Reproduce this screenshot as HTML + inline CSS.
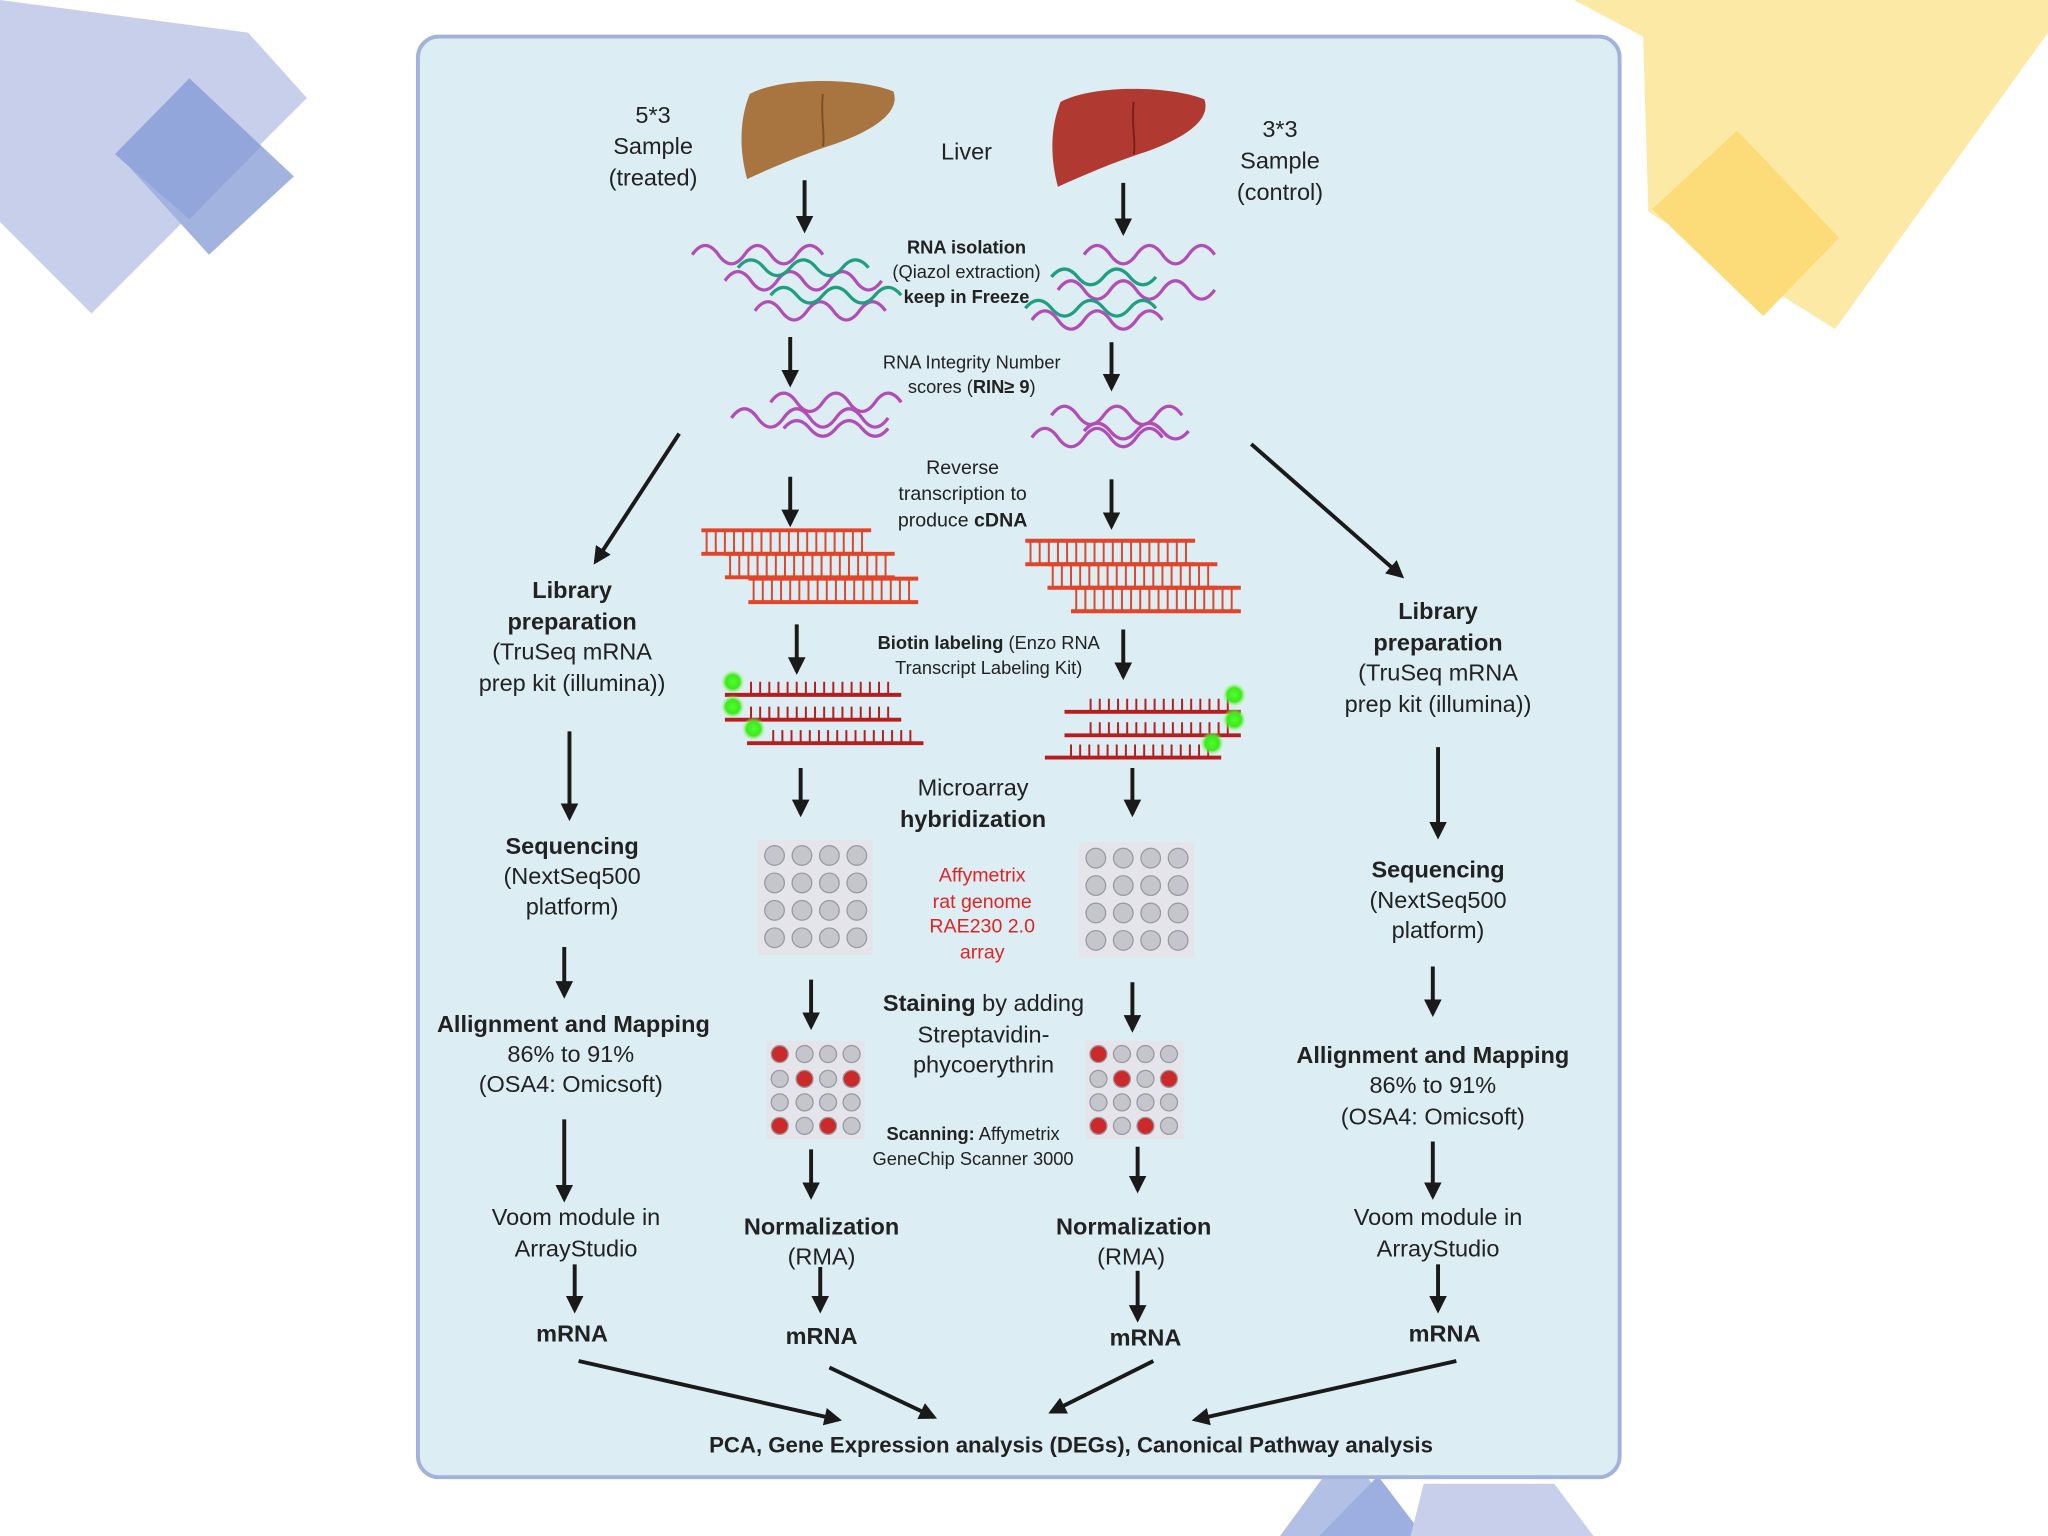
<!DOCTYPE html>
<html><head><meta charset="utf-8"><style>
html,body{margin:0;padding:0;background:#fff;width:2048px;height:1536px;overflow:hidden}
svg{display:block}
text{font-family:"Liberation Sans",sans-serif;fill:#222;text-anchor:middle}
.m{font-size:18px}
.s{font-size:14px}
.b{font-weight:bold}
.r{fill:#e02424;font-size:15px}
</style></head><body>
<svg width="2048" height="1536" viewBox="0 0 1568 1176" xmlns="http://www.w3.org/2000/svg">
<defs>
<marker id="a" viewBox="0 0 10 10" refX="8" refY="5" markerWidth="4.5" markerHeight="4.5" orient="auto"><path d="M0,0 L10,5 L0,10 z" fill="#1a1a1a"/></marker>
<g id="cd"><line x1="0" y1="0" x2="130" y2="0" stroke="#e0452a" stroke-width="3"/><line x1="0" y1="18" x2="130" y2="18" stroke="#e0452a" stroke-width="3"/>
<path d="M4,0V18M11,0V18M18,0V18M25,0V18M32,0V18M39,0V18M46,0V18M53,0V18M60,0V18M67,0V18M74,0V18M81,0V18M88,0V18M95,0V18M102,0V18M109,0V18M116,0V18M123,0V18" stroke="#e0452a" stroke-width="1.5"/></g>
<g id="bt"><line x1="0" y1="0" x2="135" y2="0" stroke="#b81c1c" stroke-width="3"/>
<path d="M20,0V-10M27,0V-10M34,0V-10M41,0V-10M48,0V-10M55,0V-10M62,0V-10M69,0V-10M76,0V-10M83,0V-10M90,0V-10M97,0V-10M104,0V-10M111,0V-10M118,0V-10M125,0V-10" stroke="#b81c1c" stroke-width="1.5"/></g>
<radialGradient id="g"><stop offset="0" stop-color="#4cff2a"/><stop offset="0.6" stop-color="#3ee81e"/><stop offset="1" stop-color="#9dff80" stop-opacity="0"/></radialGradient>
</defs>
<!-- decorations -->
<polygon points="0,0 190,25 235,75 70,240 0,170" fill="#c7cfea"/>
<polygon points="145,60 225,135 160,195 90,118" fill="#a3b3e0"/>
<polygon points="145,60 200,112 145,168 88,118" fill="#92a6dc"/>
<polygon points="1205,0 1568,0 1568,25 1405,252 1262,162 1258,28" fill="#fde9a6"/>
<polygon points="1330,100 1408,182 1350,242 1265,160" fill="#fbdc78"/>
<polygon points="980,1176 1030,1108 1080,1176" fill="#b3c0e6"/>
<polygon points="1010,1176 1055,1130 1090,1176" fill="#9dafe0"/>
<polygon points="1090,1136 1190,1136 1220,1176 1080,1176" fill="#c7cfea"/>
<!-- panel -->
<rect x="320" y="28" width="920" height="1103" rx="16" fill="#dcedf3" stroke="#a2b2da" stroke-width="3"/>
<!-- livers -->
<path d="M574,72 C600,58 660,60 684,70 C690,86 668,100 640,110 C615,118 592,128 572,137 C566,115 566,92 574,72z" fill="#a8743f"/>
<path d="M630,72 C628,90 632,104 630,112" stroke="#7a5025" stroke-width="1.5" fill="none"/>
<path d="M812,78 C838,64 898,66 922,76 C928,92 906,106 878,116 C853,124 830,134 810,143 C804,121 804,98 812,78z" fill="#b03a32"/>
<path d="M868,78 C866,96 870,110 868,118" stroke="#7a1e18" stroke-width="1.5" fill="none"/>
<!-- texts top -->
<text class="m" x="500" y="94">5*3</text><text class="m" x="500" y="118">Sample</text><text class="m" x="500" y="142">(treated)</text>
<text class="m" x="740" y="122">Liver</text>
<text class="m" x="980" y="105">3*3</text><text class="m" x="980" y="129">Sample</text><text class="m" x="980" y="153">(control)</text>
<g stroke="#1a1a1a" stroke-width="3" marker-end="url(#a)" fill="none">
<line x1="616" y1="138" x2="616" y2="176"/><line x1="860" y1="140" x2="860" y2="178"/>
<line x1="605" y1="258" x2="605" y2="294"/><line x1="851" y1="262" x2="851" y2="297"/>
<line x1="605" y1="365" x2="605" y2="401"/><line x1="851" y1="367" x2="851" y2="403"/>
<line x1="520" y1="332" x2="456" y2="430"/><line x1="958" y1="340" x2="1073" y2="441"/>
<line x1="610" y1="478" x2="610" y2="514"/><line x1="860" y1="482" x2="860" y2="518"/>
<line x1="613" y1="588" x2="613" y2="623"/><line x1="867" y1="588" x2="867" y2="623"/>
<line x1="621" y1="750" x2="621" y2="786"/><line x1="867" y1="752" x2="867" y2="788"/>
<line x1="621" y1="880" x2="621" y2="916"/><line x1="871" y1="878" x2="871" y2="911"/>
<line x1="628" y1="970" x2="628" y2="1003"/><line x1="871" y1="973" x2="871" y2="1010"/>
<line x1="436" y1="560" x2="436" y2="626"/><line x1="432" y1="725" x2="432" y2="762"/>
<line x1="432" y1="857" x2="432" y2="918"/><line x1="440" y1="968" x2="440" y2="1003"/>
<line x1="1101" y1="572" x2="1101" y2="640"/><line x1="1097" y1="740" x2="1097" y2="776"/>
<line x1="1097" y1="874" x2="1097" y2="916"/><line x1="1101" y1="968" x2="1101" y2="1003"/>
<line x1="443" y1="1042" x2="642" y2="1087"/><line x1="635" y1="1047" x2="715" y2="1085"/>
<line x1="883" y1="1042" x2="805" y2="1081"/><line x1="1115" y1="1042" x2="915" y2="1087"/>
</g>
<!-- RNA waves -->
<g fill="none" stroke-width="2.5">
<path d="M530,195 q10,-14 20,0 t20,0 t20,0 t20,0 t20,0" stroke="#b24db8"/>
<path d="M555,215 q10,-14 20,0 t20,0 t20,0 t20,0 t20,0 t20,0" stroke="#b24db8"/>
<path d="M578,238 q10,-14 20,0 t20,0 t20,0 t20,0 t20,0" stroke="#b24db8"/>
<path d="M565,205 q10,-12 20,0 t20,0 t20,0 t20,0 t20,0" stroke="#1f9e80"/>
<path d="M590,226 q10,-12 20,0 t20,0 t20,0 t20,0 t20,0" stroke="#1f9e80"/>
<path d="M830,195 q10,-14 20,0 t20,0 t20,0 t20,0 t20,0" stroke="#b24db8"/>
<path d="M810,222 q10,-14 20,0 t20,0 t20,0 t20,0 t20,0 t20,0" stroke="#b24db8"/>
<path d="M790,245 q10,-14 20,0 t20,0 t20,0 t20,0 t20,0" stroke="#b24db8"/>
<path d="M805,212 q10,-12 20,0 t20,0 t20,0 t20,0" stroke="#1f9e80"/>
<path d="M785,236 q10,-12 20,0 t20,0 t20,0 t20,0 t20,0" stroke="#1f9e80"/>
<path d="M560,320 q10,-14 20,0 t20,0 t20,0 t20,0 t20,0 t20,0" stroke="#b24db8"/>
<path d="M590,308 q10,-14 20,0 t20,0 t20,0 t20,0 t20,0" stroke="#b24db8"/>
<path d="M600,328 q10,-12 20,0 t20,0 t20,0 t20,0" stroke="#b24db8"/>
<path d="M790,335 q10,-14 20,0 t20,0 t20,0 t20,0 t20,0" stroke="#b24db8"/>
<path d="M805,318 q10,-14 20,0 t20,0 t20,0 t20,0 t20,0" stroke="#b24db8"/>
<path d="M830,330 q10,-12 20,0 t20,0 t20,0 t20,0" stroke="#b24db8"/>
</g>
<text class="s b" x="740" y="194">RNA isolation</text>
<text class="s" x="740" y="213">(Qiazol extraction)</text>
<text class="s b" x="740" y="232">keep in Freeze</text>
<text class="s" x="744" y="282">RNA Integrity Number</text>
<text class="s" x="744" y="301">scores (<tspan class="b">RIN≥ 9</tspan>)</text>
<text class="s" x="737" y="363" style="font-size:15px">Reverse</text>
<text class="s" x="737" y="383" style="font-size:15px">transcription to</text>
<text class="s" x="737" y="403" style="font-size:15px">produce <tspan class="b">cDNA</tspan></text>
<!-- cDNA -->
<use href="#cd" x="537" y="406"/><use href="#cd" x="555" y="424"/><use href="#cd" x="573" y="443"/>
<use href="#cd" x="785" y="414"/><use href="#cd" x="802" y="432"/><use href="#cd" x="820" y="450"/>
<text class="s" x="757" y="497"><tspan class="b">Biotin labeling</tspan> (Enzo RNA</text>
<text class="s" x="757" y="516">Transcript Labeling Kit)</text>
<!-- biotin -->
<use href="#bt" x="555" y="532"/><use href="#bt" x="555" y="551"/><use href="#bt" x="572" y="569"/>
<use href="#bt" x="815" y="545"/><use href="#bt" x="815" y="563"/><use href="#bt" x="800" y="580"/>
<circle cx="561" cy="522" r="9" fill="url(#g)"/><circle cx="561" cy="541" r="9" fill="url(#g)"/><circle cx="577" cy="558" r="9" fill="url(#g)"/>
<circle cx="945" cy="532" r="9" fill="url(#g)"/><circle cx="945" cy="551" r="9" fill="url(#g)"/><circle cx="928" cy="569" r="9" fill="url(#g)"/>
<text class="m" x="745" y="609">Microarray</text><text class="m b" x="745" y="633">hybridization</text>
<!-- grids -->
<rect x="580" y="643" width="88" height="88" fill="#e4e4ea"/>
<rect x="826" y="645" width="88" height="88" fill="#e4e4ea"/>
<g fill="#c5c5cc" stroke="#9a9aa3" stroke-width="1">
<circle cx="593" cy="655" r="7.5"/><circle cx="614" cy="655" r="7.5"/><circle cx="635" cy="655" r="7.5"/><circle cx="656" cy="655" r="7.5"/>
<circle cx="593" cy="676" r="7.5"/><circle cx="614" cy="676" r="7.5"/><circle cx="635" cy="676" r="7.5"/><circle cx="656" cy="676" r="7.5"/>
<circle cx="593" cy="697" r="7.5"/><circle cx="614" cy="697" r="7.5"/><circle cx="635" cy="697" r="7.5"/><circle cx="656" cy="697" r="7.5"/>
<circle cx="593" cy="718" r="7.5"/><circle cx="614" cy="718" r="7.5"/><circle cx="635" cy="718" r="7.5"/><circle cx="656" cy="718" r="7.5"/>
<circle cx="839" cy="657" r="7.5"/><circle cx="860" cy="657" r="7.5"/><circle cx="881" cy="657" r="7.5"/><circle cx="902" cy="657" r="7.5"/>
<circle cx="839" cy="678" r="7.5"/><circle cx="860" cy="678" r="7.5"/><circle cx="881" cy="678" r="7.5"/><circle cx="902" cy="678" r="7.5"/>
<circle cx="839" cy="699" r="7.5"/><circle cx="860" cy="699" r="7.5"/><circle cx="881" cy="699" r="7.5"/><circle cx="902" cy="699" r="7.5"/>
<circle cx="839" cy="720" r="7.5"/><circle cx="860" cy="720" r="7.5"/><circle cx="881" cy="720" r="7.5"/><circle cx="902" cy="720" r="7.5"/>
</g>
<text class="r" x="752" y="675">Affymetrix</text><text class="r" x="752" y="695">rat genome</text>
<text class="r" x="752" y="714">RAE230 2.0</text><text class="r" x="752" y="734">array</text>
<text class="m" x="753" y="774"><tspan class="b">Staining</tspan> by adding</text>
<text class="m" x="753" y="798">Streptavidin-</text><text class="m" x="753" y="821">phycoerythrin</text>
<!-- stained grids -->
<rect x="587" y="797" width="75" height="75" fill="#e4e4ea"/>
<rect x="831" y="797" width="75" height="75" fill="#e4e4ea"/>
<g stroke="#9a9aa3" stroke-width="1">
<g fill="#c5c5cc">
<circle cx="616" cy="807" r="6.5"/><circle cx="634" cy="807" r="6.5"/><circle cx="652" cy="807" r="6.5"/>
<circle cx="597" cy="826" r="6.5"/><circle cx="634" cy="826" r="6.5"/>
<circle cx="597" cy="844" r="6.5"/><circle cx="616" cy="844" r="6.5"/><circle cx="634" cy="844" r="6.5"/><circle cx="652" cy="844" r="6.5"/>
<circle cx="616" cy="862" r="6.5"/><circle cx="652" cy="862" r="6.5"/>
<circle cx="859" cy="807" r="6.5"/><circle cx="877" cy="807" r="6.5"/><circle cx="895" cy="807" r="6.5"/>
<circle cx="841" cy="826" r="6.5"/><circle cx="877" cy="826" r="6.5"/>
<circle cx="841" cy="844" r="6.5"/><circle cx="859" cy="844" r="6.5"/><circle cx="877" cy="844" r="6.5"/><circle cx="895" cy="844" r="6.5"/>
<circle cx="859" cy="862" r="6.5"/><circle cx="895" cy="862" r="6.5"/>
</g>
<g fill="#cc2a2a">
<circle cx="597" cy="807" r="6.5"/><circle cx="616" cy="826" r="6.5"/><circle cx="652" cy="826" r="6.5"/><circle cx="597" cy="862" r="6.5"/><circle cx="634" cy="862" r="6.5"/>
<circle cx="841" cy="807" r="6.5"/><circle cx="859" cy="826" r="6.5"/><circle cx="895" cy="826" r="6.5"/><circle cx="841" cy="862" r="6.5"/><circle cx="877" cy="862" r="6.5"/>
</g></g>
<text class="s" x="745" y="873"><tspan class="b">Scanning:</tspan> Affymetrix</text>
<text class="s" x="745" y="892">GeneChip Scanner 3000</text>
<text class="m b" x="629" y="945">Normalization</text><text class="m" x="629" y="968">(RMA)</text>
<text class="m b" x="868" y="945">Normalization</text><text class="m" x="866" y="968">(RMA)</text>
<text class="m b" x="629" y="1029">mRNA</text><text class="m b" x="877" y="1030">mRNA</text>
<!-- left column -->
<text class="m b" x="438" y="458">Library</text><text class="m b" x="438" y="482">preparation</text>
<text class="m" x="438" y="505">(TruSeq mRNA</text><text class="m" x="438" y="529">prep kit (illumina))</text>
<text class="m b" x="438" y="654">Sequencing</text><text class="m" x="438" y="677">(NextSeq500</text><text class="m" x="438" y="700">platform)</text>
<text class="m b" x="439" y="790">Allignment and Mapping</text><text class="m" x="437" y="813">86% to 91%</text><text class="m" x="437" y="836">(OSA4: Omicsoft)</text>
<text class="m" x="441" y="938">Voom module in</text><text class="m" x="441" y="962">ArrayStudio</text>
<text class="m b" x="438" y="1027">mRNA</text>
<!-- right column -->
<text class="m b" x="1101" y="474">Library</text><text class="m b" x="1101" y="498">preparation</text>
<text class="m" x="1101" y="521">(TruSeq mRNA</text><text class="m" x="1101" y="545">prep kit (illumina))</text>
<text class="m b" x="1101" y="672">Sequencing</text><text class="m" x="1101" y="695">(NextSeq500</text><text class="m" x="1101" y="718">platform)</text>
<text class="m b" x="1097" y="814">Allignment and Mapping</text><text class="m" x="1097" y="837">86% to 91%</text><text class="m" x="1097" y="861">(OSA4: Omicsoft)</text>
<text class="m" x="1101" y="938">Voom module in</text><text class="m" x="1101" y="962">ArrayStudio</text>
<text class="m b" x="1106" y="1027">mRNA</text>
<text class="b" x="820" y="1112" style="font-size:17px">PCA, Gene Expression analysis (DEGs), Canonical Pathway analysis</text>
</svg>
</body></html>
